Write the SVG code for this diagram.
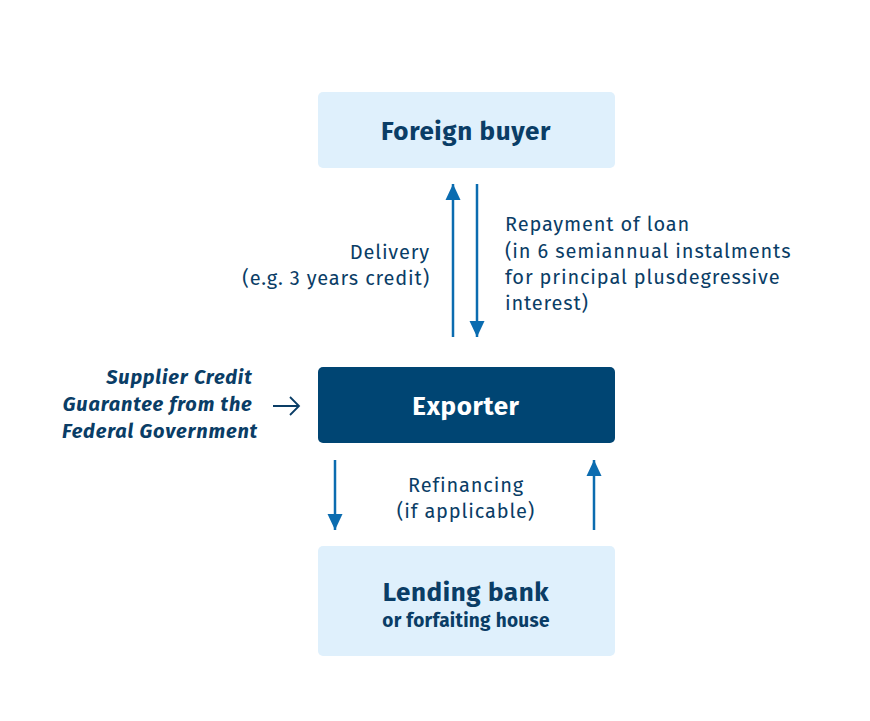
<svg xmlns="http://www.w3.org/2000/svg" width="870" height="721" viewBox="0 0 870 721">
<style>
.light{fill:#dff0fc}
.dark{fill:#004573}
.t{font-family:"Fira Sans","Open Sans","Noto Sans",sans-serif;fill:#0a3d66}
.lbl{font-size:20px;letter-spacing:0.85px}
.title{font-size:26px;font-weight:700;letter-spacing:0.6px}
.conn{stroke:#0b6cb0;stroke-width:2.5;fill:none}
</style>
<defs>
<marker id="ah" viewBox="0 0 16 20" refX="16" refY="10" markerWidth="16" markerHeight="20" markerUnits="userSpaceOnUse" orient="auto">
<path d="M0,2.5 L16,10 L0,17.5 z" fill="#0b6cb0"/>
</marker>
</defs>
<rect width="870" height="721" fill="#ffffff"/>
<g id="foreign-buyer">
<rect class="light" x="318" y="92" width="297" height="76" rx="5"/>
<text class="t title" x="466" y="140" text-anchor="middle">Foreign buyer</text>
</g>
<g id="exporter">
<rect class="dark" x="318" y="367" width="297" height="76" rx="5"/>
<text class="t title" x="466" y="415" text-anchor="middle" style="fill:#ffffff">Exporter</text>
</g>
<g id="lending-bank">
<rect class="light" x="318" y="546" width="297" height="110" rx="5"/>
<text class="t title" x="466" y="601" text-anchor="middle">Lending bank</text>
<text class="t" x="466" y="627" text-anchor="middle" style="font-size:19px;font-weight:700;letter-spacing:0.3px">or forfaiting house</text>
</g>
<g id="guarantee">
<text class="t lbl" text-anchor="end" style="font-style:italic;font-weight:700">
<tspan x="258" y="384">Supplier Credit</tspan>
<tspan x="258" y="411">Guarantee from the</tspan>
<tspan x="258" y="438">Federal Government</tspan>
</text>
</g>
<g id="connectors">
<line class="conn" x1="453" y1="337" x2="453" y2="184" marker-end="url(#ah)"/>
<line class="conn" x1="477" y1="184" x2="477" y2="337" marker-end="url(#ah)"/>
<line class="conn" x1="335" y1="460" x2="335" y2="530" marker-end="url(#ah)"/>
<line class="conn" x1="594" y1="530" x2="594" y2="460" marker-end="url(#ah)"/>
<path d="M273,406 H299 M290,397 L299,406 L290,415" fill="none" stroke="#0a3d66" stroke-width="1.8"/>
<text class="t lbl" text-anchor="end"><tspan x="430" y="259">Delivery</tspan><tspan x="430" y="285">(e.g. 3 years credit)</tspan></text>
<text class="t lbl"><tspan x="505" y="231">Repayment of loan</tspan><tspan x="505" y="258">(in 6 semiannual instalments</tspan><tspan x="505" y="284">for principal plusdegressive</tspan><tspan x="505" y="310">interest)</tspan></text>
<text class="t lbl" text-anchor="middle"><tspan x="466" y="492">Refinancing</tspan><tspan x="466" y="518">(if applicable)</tspan></text>
</g>
</svg>
